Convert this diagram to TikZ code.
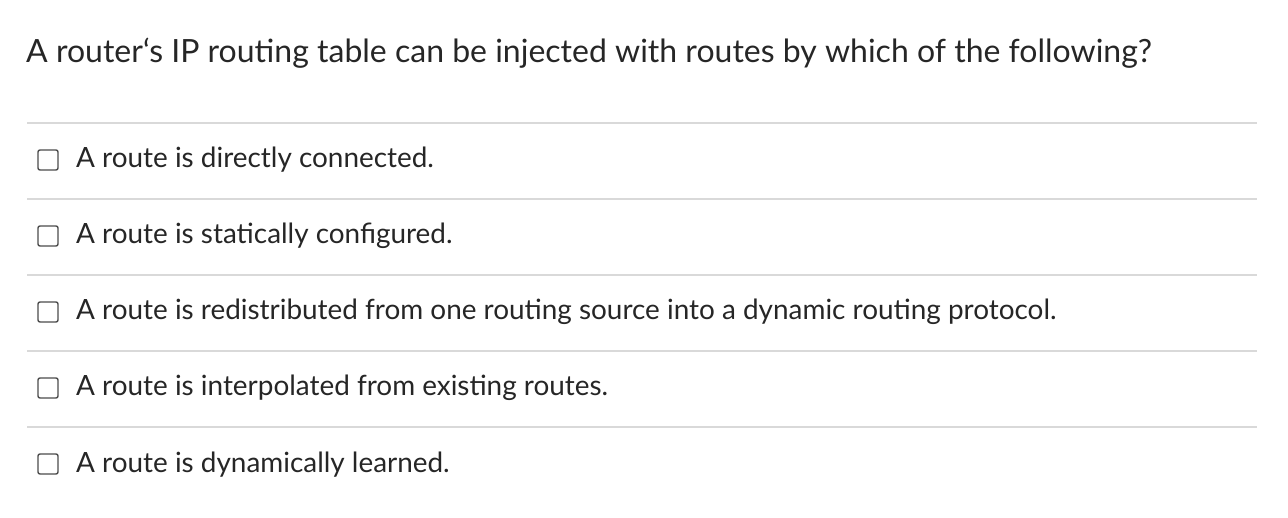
\documentclass[tikz,border=0pt]{standalone}
\usepackage{fontspec}
\setmainfont{Lato}
\begin{document}
\begin{tikzpicture}[x=1pt,y=-1pt,
  sep/.style={draw=black!15,line width=1.2pt},
  cbox/.style={draw=black!70,line width=1.4pt,rounded corners=2pt,minimum size=20pt,inner sep=0pt},
  opt/.style={anchor=base west,font=\fontsize{27.9}{32}\selectfont,text=black!85,inner sep=0pt}]
\useasboundingbox (0,0) rectangle (1288,518);
\node[anchor=base west,inner sep=0pt,font=\fontsize{32}{36}\selectfont,text=black!85] (title) at (26,63) {A router‘s IP routing table can be injected with routes by which of the following?};
\foreach \i/\t in {0/{A route is directly connected.},1/{A route is statically configured.},2/{A route is redistributed from one routing source into a dynamic routing protocol.},3/{A route is interpolated from existing routes.},4/{A route is dynamically learned.}}{
  \draw[sep] (27,{123+76*\i}) coordinate (l\i) -- (1257,{123+76*\i}) coordinate (r\i);
  \node[cbox] (c\i) at (48,{160+76*\i}) {};
  \node[opt] (t\i) at (76,{168+76*\i}) {\t};
}
\end{tikzpicture}
\end{document}
